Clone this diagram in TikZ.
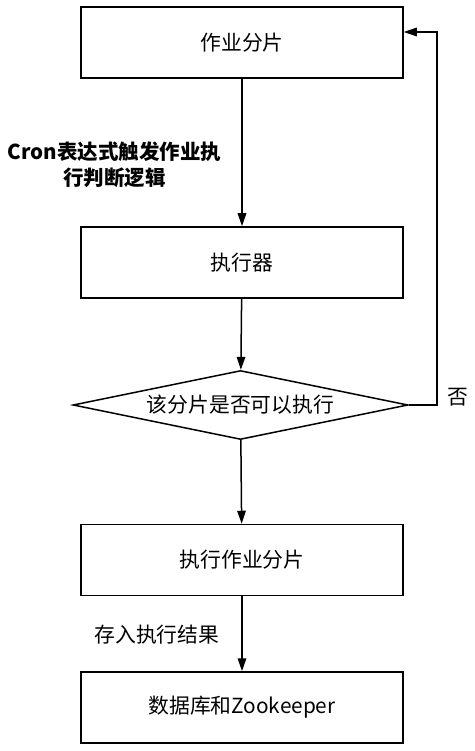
\documentclass[tikz,border=0pt]{standalone}
\usepackage{fontspec}
\setmainfont{Noto Sans CJK SC}
\usetikzlibrary{arrows.meta,shapes.geometric}

\tikzset{
  stepbox/.style={draw, line width=1.5pt, minimum width=322pt, minimum height=71pt, inner sep=0pt},
  judgebox/.style={draw, diamond, line width=1.5pt, aspect=4.86, minimum width=335pt, minimum height=69pt, inner sep=0pt},
  arr/.style={line width=1.5pt, -{Triangle[length=13pt,width=8.5pt]}},
  lbl/.style={inner sep=0pt, align=center}
}

\begin{document}
\begin{tikzpicture}[x=1pt, y=-1pt, font=\fontsize{20.8}{26}\selectfont]
  \useasboundingbox (0,0) rectangle (474,751);

  % Boxes
  \node[stepbox] (shard) at (242,42.5) {作业分片};
  \node[stepbox] (exec) at (242,262.5) {执行器};
  \node[judgebox] (judge) at (240.5,405) {该分片是否可以执行};
  \node[stepbox] (run) at (242,560) {执行作业分片};
  \node[stepbox] (store) at (242,707.5) {数据库和Zookeeper};

  % Flow
  \draw[arr] (shard) -- node[lbl, pos=0.58, anchor=east, xshift=-20pt, font=\fontsize{20.5}{26}\selectfont\bfseries] {Cron表达式触发作业执\\行判断逻辑} (exec);
  \draw[arr] (exec) -- (judge);
  \draw[arr] (judge) -- (run);
  \draw[arr] (run) -- node[lbl, pos=0.51, anchor=east, xshift=-22pt] {存入执行结果} (store);

  % Back to the shard
  \coordinate (back) at (437,32);
  \draw[arr] (judge.east) -- (judge.east -| back) node[lbl, anchor=west, xshift=10pt, yshift=8pt] {否} -- (back) -- (shard.east |- back);
\end{tikzpicture}
\end{document}
